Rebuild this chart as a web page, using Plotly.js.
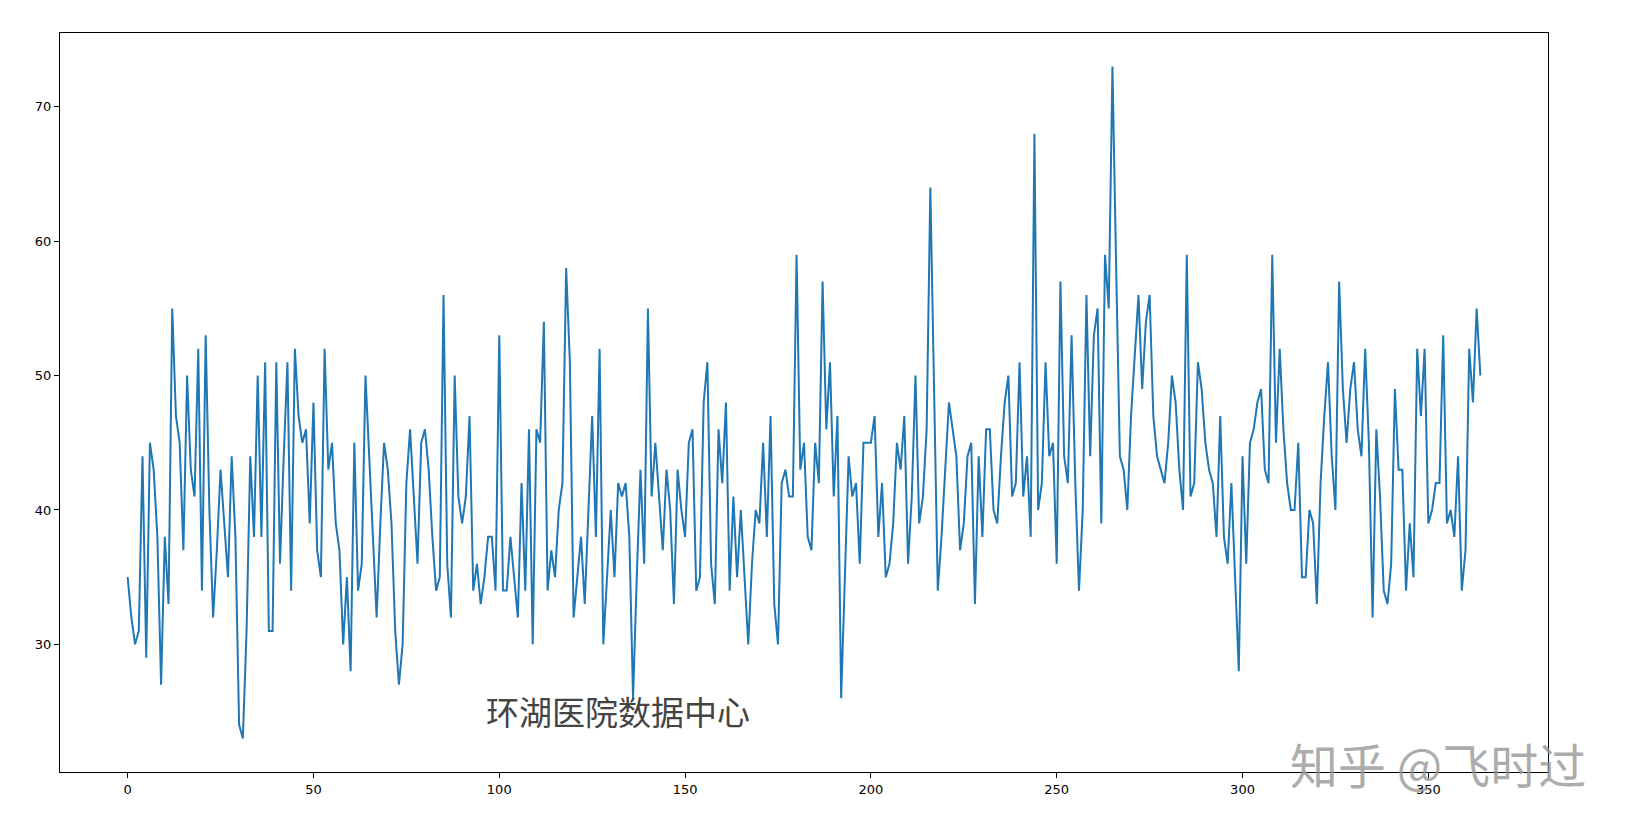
<!DOCTYPE html>
<html>
<head>
<meta charset="utf-8">
<script src="https://cdn.plot.ly/plotly-3.0.1.min.js"></script>
<style>
html,body{margin:0;padding:0;background:#fff;}
#chart{width:1630px;height:831px;}
</style>
</head>
<body>
<div id="chart"></div>
<script>
// Daily values (index 0..364)
const values = [
35,32,30,31,44,29,45,43,38,27,
38,33,55,47,45,37,50,43,41,52,
34,53,40,32,37,43,39,35,44,38,
24,23,31,44,38,50,38,51,31,31,
51,36,44,51,34,52,47,45,46,39,
48,37,35,52,43,45,39,37,30,35,
28,45,34,36,50,44,39,32,39,45,
43,39,31,27,30,42,46,41,36,45,
46,43,38,34,35,56,36,32,50,41,
39,41,47,34,36,33,35,38,38,34,
53,34,34,38,35,32,42,34,46,30,
46,45,54,34,37,35,40,42,58,51,
32,35,38,33,40,47,38,52,30,35,
40,35,42,41,42,38,26,35,43,36,
55,41,45,41,37,43,40,33,43,40,
38,45,46,34,35,48,51,36,33,46,
42,48,34,41,35,40,35,30,36,40,
39,45,38,47,33,30,42,43,41,41,
59,43,45,38,37,45,42,57,46,51,
41,47,26,35,44,41,42,36,45,45,
45,47,38,42,35,36,39,45,43,47,
36,41,50,39,41,46,64,49,34,38,
43,48,46,44,37,39,44,45,33,44,
38,46,46,40,39,44,48,50,41,42,
51,41,44,38,68,40,42,51,44,45,
36,57,44,42,53,42,34,40,56,44,
53,55,39,59,55,73,58,44,43,40,
47,52,56,49,54,56,47,44,43,42,
45,50,48,43,40,59,41,42,51,49,
45,43,42,38,47,38,36,42,35,28,
44,36,45,46,48,49,43,42,59,45,
52,46,42,40,40,45,35,35,40,39,
33,42,47,51,44,40,57,49,45,49,
51,46,44,52,45,32,46,41,34,33,
36,49,43,43,34,39,35,52,47,52,
39,40,42,42,53,39,40,38,44,34,
37,52,48,55,50
];
const days = values.map((_, i) => i);
const xTicks = [0, 50, 100, 150, 200, 250, 300, 350];
const yTicks = [30, 40, 50, 60, 70];
const labelText = "环湖医院数据中心";
const watermarkText = "知乎 @飞时过";

const trace = {
  x: days,
  y: values,
  type: 'scatter',
  mode: 'lines',
  line: {color: '#1f77b4', width: 2},
  hoverinfo: 'skip'
};

const axisCommon = {
  showgrid: false,
  zeroline: false,
  showline: true,
  mirror: true,
  linecolor: '#000',
  linewidth: 1,
  ticks: 'outside',
  ticklen: 5,
  tickwidth: 1,
  tickcolor: '#000',
  tickfont: {family: 'DejaVu Sans', size: 13, color: '#000'}
};

const layout = {
  width: 1630,
  height: 831,
  margin: {l: 60, r: 82, t: 33, b: 59},
  paper_bgcolor: '#fff',
  plot_bgcolor: '#fff',
  showlegend: false,
  xaxis: Object.assign({}, axisCommon, {
    range: [-18.2, 382.2],
    tickmode: 'array',
    tickvals: xTicks,
    ticktext: xTicks.map(String)
  }),
  yaxis: Object.assign({}, axisCommon, {
    range: [20.5, 75.5],
    tickmode: 'array',
    tickvals: yTicks,
    ticktext: yTicks.map(String)
  }),
  annotations: [
    {
      text: labelText,
      x: 132, y: 25.05, xref: 'x', yref: 'y',
      xanchor: 'center', yanchor: 'middle',
      showarrow: false,
      font: {family: 'Noto Sans CJK SC', size: 33, color: '#444'}
    },
    {
      text: watermarkText,
      x: 0.926, y: 0.012, xref: 'paper', yref: 'paper',
      xanchor: 'center', yanchor: 'middle',
      showarrow: false,
      font: {family: 'Noto Sans CJK SC', size: 48, color: 'rgba(150,150,150,0.8)'}
    }
  ]
};

Plotly.newPlot('chart', [trace], layout, {staticPlot: true, displayModeBar: false});
</script>
</body>
</html>
